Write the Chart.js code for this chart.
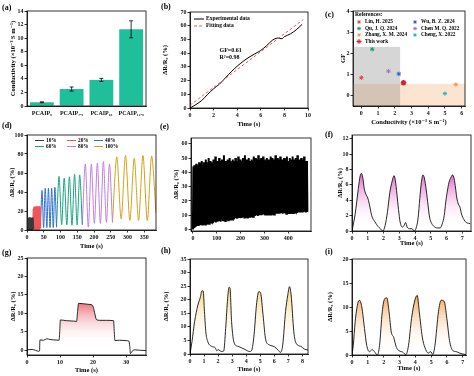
<!DOCTYPE html>
<html>
<head>
<meta charset="utf-8">
<script src="https://cdn.jsdelivr.net/npm/chart.js@4.4.1/dist/chart.umd.min.js"></script>
<style>
html, body { margin: 0; padding: 0; background: #fff; }
#wrap { position: relative; width: 474px; height: 376px; overflow: hidden; }
#wrap canvas { position: absolute; }
.lbl { position: absolute; font: bold 8px 'Liberation Serif', serif; color: #000; line-height: 1; }
</style>
</head>
<body>
<div id="wrap"></div>
<script>
// (a) conductivity of the samples
const samplesA = ['PCAIP₀', 'PCAIP₇.₅', 'PCAIP₁₀', 'PCAIP₁₂.₅'];
const condA = [0.55, 2.5, 3.85, 11.3];
const condErrA = [0.07, 0.3, 0.22, 1.25];

// (b) response vs time + linear fit
const timeB = [0, 0.5, 1, 1.5, 2, 2.5, 3, 3.5, 4, 4.5, 5, 5.5, 6, 6.5, 7, 7.4, 7.8, 8, 8.5, 9, 9.5];
const expB = [0, 2.5, 5.5, 10, 14, 17.5, 22, 26.5, 30.5, 34, 37, 39.5, 42, 45.5, 49.5, 51, 50.5, 52, 54, 57, 61];
const fitTimeB = [0, 9.6];
const fitB = [2, 64.5];

// (c) comparison with literature
const refNames = ['Lin, H. 2025', 'Qu, J. Q. 2024', 'Zhang, X. M. 2024', 'This work', 'Wu, B. Z. 2024', 'Chen M. Q. 2022', 'Cheng, X. 2022'];
const refCond = [0, 0.65, 5.65, 2.52, 2.24, 1.62, 5.0];
const refGF = [0.84, 2.19, 0.52, 0.6, 1.02, 1.15, 0.09];

// (d) cyclic strain levels: peaks and valleys per level
const levelsD = ['10%', '20%', '40%', '60%', '80%', '100%'];
const startD = [0, 18, 40, 88, 165, 255];
const endD = [19, 40, 88, 165, 255, 385];
const peaks10 = [12, 12.5, 12.2, 12.8, 12.5, 12.3, 12.6, 12.4];
const valleys10 = [0, 0.6, 0.5, 0.7, 0.5, 0.6, 0.5, 0.6, 1];
const peaks20 = [22.5, 23.8, 24.2, 24, 24.5, 24.2, 24.6, 24, 24.3, 23.8];
const valleys20 = [1, 1.2, 1, 1.3, 1.1, 1.2, 1, 1.3, 1.1, 1.2, 2];
const peaks40 = [41.7, 44, 44, 44, 45];
const valleys40 = [2, 2.5, 2.5, 2.5, 2.5, 3];
const peaks60 = [56.5, 54.7, 56, 58.6, 58];
const valleys60 = [3, 5.6, 5.3, 5, 5.3, 5.6];
const peaks80 = [69.5, 69.5, 70.5, 72, 69.5];
const valleys80 = [5.6, 3, 7, 7, 8, 8];
const peaks100 = [77, 78.5, 75.5, 78.5, 78];
const valleys100 = [8, 11.6, 10, 10, 10, 18];

// (e) long-term cycling, one peak and one valley per cycle
const spanE = [0, 480];
const ticksEx = [0, 100, 200, 300, 400];
const peaksE = [
  44, 45, 44, 46, 45, 44, 47, 45, 46, 48, 45, 47, 46, 49, 45, 47, 50, 46, 48, 47,
  46, 49, 47, 51, 46, 48, 47, 50, 46, 48, 49, 47, 52, 46, 48, 47, 49, 46, 50, 48,
  47, 49, 48, 46, 50, 47, 48, 51, 47, 49, 46, 48, 50, 47, 52, 48, 49, 47, 50, 48,
  46, 49, 48, 51, 47, 50, 49, 48, 52, 47, 49, 50, 48, 51, 47, 49, 48, 50, 47, 49,
  48, 51, 47, 50, 49, 48, 52, 47, 50, 48, 49, 51, 47, 49, 48, 50, 46, 49, 51, 48,
  47, 50, 49, 48, 51, 47, 49, 50, 48, 52, 47, 49, 48, 50, 47, 49, 51, 48, 47, 48
];
const valleysE = [
  0, 1, 1.5, 2, 2.5, 3, 2.5, 3.5, 3, 4, 3.5, 4, 4.5, 3.5, 4, 5, 4.5, 4, 5, 5.5,
  5, 4.5, 5.5, 6, 5, 6, 5.5, 6.5, 6, 5.5, 7, 6, 6.5, 7, 6, 7, 7.5, 6.5, 7, 7.5,
  7, 8, 7.5, 7, 8, 8.5, 7.5, 8, 8.5, 8, 9, 8, 8.5, 9, 8.5, 9, 9.5, 8.5, 9, 9.5,
  9, 10, 9.5, 9, 10, 9.5, 10.5, 10, 9.5, 10.5, 10, 11, 10, 10.5, 11, 10, 10.5, 11, 10.5, 11,
  10.5, 11, 10.5, 11.5, 11, 10.5, 11.5, 11, 12, 11, 11.5, 11, 12, 11.5, 11, 12, 11.5, 12, 11, 12,
  11.5, 12, 11.5, 12.5, 12, 11.5, 12, 12.5, 12, 11.5, 12.5, 12, 13, 12, 12.5, 12, 13, 12.5, 12, 13, 12.5
];

// (f) signal
const timeF = [0, 0.2, 0.4, 0.52, 0.6, 0.68, 0.78, 0.88, 1.0, 1.1, 1.25, 1.45, 1.65, 1.8, 1.95, 2.1, 2.25, 2.4, 2.55, 2.67, 2.75, 2.85, 2.95, 3.05, 3.2, 3.3, 3.4, 3.5, 3.65, 3.8, 3.95, 4.1, 4.2, 4.3, 4.4, 4.5, 4.58, 4.68, 4.8, 4.92, 5.05, 5.2, 5.4, 5.6, 5.72, 5.85, 5.95, 6.05, 6.15, 6.28, 6.38, 6.48, 6.57, 6.65, 6.75, 6.85, 6.95, 7.1, 7.25, 7.4, 7.5];
const valF = [0, 2.2, 5.5, 7.2, 7.5, 7.0, 5.5, 4.8, 4.3, 3.5, 2.0, 1.2, 0.6, 0.3, 0, 0.7, 2.5, 5.0, 6.5, 7.2, 6.6, 4.8, 2.8, 1.2, 0.5, 0.7, 1.1, 0.5, 0.3, 0.3, 0, 0.6, 1.8, 4.2, 6.3, 7.3, 7.0, 5.8, 3.8, 1.8, 1.0, 0.6, 0.4, 0.4, 0.9, 2.0, 3.8, 5.2, 6.3, 7.0, 7.3, 6.8, 5.6, 4.3, 3.5, 3.1, 2.2, 1.5, 1.1, 1.0, 0.95];

// (g) step signal
const timeG = [0, 1.5, 2.5, 3.5, 3.8, 3.9, 5, 6, 7, 8, 9.7, 9.9, 10.1, 12, 14, 15.0, 15.3, 15.6, 17, 19, 19.8, 20.5, 21, 22, 24, 26.2, 26.4, 26.6, 28, 30, 30.8, 31.1, 31.3, 31.8, 32.5, 34, 36];
const valG = [0.1, 0.2, 0, -0.3, -0.2, 2.8, 2.7, 3.1, 2.9, 2.8, 2.7, 5, 8.2, 8.0, 7.9, 7.8, 10.5, 12.7, 12.6, 12.4, 12.2, 10, 8.3, 8.1, 8.1, 8.0, 5, 2.6, 2.7, 2.6, 2.5, 1, -0.9, -0.3, 0.1, 0, -0.1];

// (h) signal
const timeH = [0, 0.14, 0.33, 0.56, 0.73, 0.85, 0.94, 1.03, 1.13, 1.27, 1.55, 1.8, 1.9, 2.0, 2.26, 2.4, 2.54, 2.68, 2.78, 2.85, 2.96, 3.15, 3.44, 3.9, 4.26, 4.4, 4.56, 4.73, 4.9, 5.03, 5.2, 5.39, 5.67, 6.0, 6.26, 6.45, 6.6, 6.8, 6.96, 7.08, 7.2, 7.39, 7.55, 7.9, 8.14, 8.4];
const valH = [0, 4.5, 12, 18, 20.8, 23.3, 23.2, 15.6, 8, 4.5, 2.8, 2.3, 1.2, 1.6, 0.9, 1.1, 9.5, 20.5, 24.6, 24.2, 12, 4, 2.8, 1.7, 0.9, 1.5, 7, 18, 23, 22.4, 14.4, 5.2, 3.3, 2.7, 1.5, 0.6, 3.3, 15.6, 21.7, 24.8, 21.7, 8.2, 4, 2.8, 1.8, 1.5];

// (i) signal
const timeI = [0, 0.08, 0.2, 0.36, 0.47, 0.62, 0.79, 0.93, 1.1, 1.27, 1.42, 1.6, 1.74, 1.91, 2.06, 2.2, 2.34, 2.48, 2.63, 2.8, 2.97, 3.2, 3.4, 3.57, 3.76, 3.97, 4.12, 4.25, 4.44, 4.6, 4.82, 4.97, 5.1, 5.24, 5.46, 5.63, 5.82, 5.99, 6.16, 6.37, 6.58, 6.8, 7.0, 7.18];
const valI = [0, 2, 6.9, 10.7, 11.4, 10, 5.5, 2, 0.7, 1.1, 0.7, 0, 2, 9, 11.7, 11.9, 9, 4.8, 3.7, 1.6, 0.9, 0.6, 0.1, 2, 7.6, 11.4, 12.4, 9, 3.7, 1.6, 0.4, 0.7, 0.1, 2, 9, 11.4, 11.2, 7.6, 3, 0.9, 0.7, 0.4, 0.2, 0.1];

const FONT = "'Liberation Serif', 'DejaVu Serif', serif";
const YT = 'ΔR/R₀ (%)';
const wrap = document.getElementById('wrap');
Chart.defaults.font.family = FONT;
Chart.defaults.color = '#000';

function pairs(xs, ys) { return xs.map((x, i) => ({ x: x, y: ys[i] })); }

// peaks/valleys alternate, evenly placed between start and end
function zigzag(start, end, peaks, valleys) {
  const n = peaks.length * 2, step = (end - start) / n, pts = [];
  for (let i = 0; i <= n; i++) {
    pts.push({ x: start + i * step, y: i % 2 ? peaks[(i - 1) / 2] : valleys[i / 2] });
  }
  return pts;
}

function axis(opt) {
  const a = {
    type: opt.type || 'linear',
    min: opt.min, max: opt.max,
    border: { display: true, color: '#000', width: 0.8 },
    grid: { display: opt.noTicks ? false : true, drawOnChartArea: false, tickLength: 2.5, color: '#000', lineWidth: 0.8 },
    ticks: { stepSize: opt.step, font: { family: FONT, size: 6, weight: 'bold' }, color: '#111', padding: 1, includeBounds: false, maxRotation: 0, autoSkip: false },
    title: { display: !!opt.title, text: opt.title, font: { family: FONT, size: 6.5, weight: 'bold' }, color: '#000', padding: 0 },
    afterFit: s => {
      if (opt.isX) s.height = opt.fixed; else s.width = opt.fixed;
      s.paddingLeft = 0; s.paddingRight = 0; s.paddingTop = 0; s.paddingBottom = 0;
    }
  };
  if (opt.tickList) a.afterBuildTicks = s => { s.ticks = opt.tickList.map(v => ({ value: v })); };
  return a;
}

const frame = {
  id: 'frame',
  afterDraw(chart) {
    const a = chart.chartArea, c = chart.ctx;
    c.save();
    c.strokeStyle = '#000';
    c.lineWidth = 0.8;
    c.strokeRect(a.left, a.top, a.right - a.left, a.bottom - a.top);
    c.restore();
  }
};

function panel(plot, yw, xh, type, data, scales, plugins) {
  const pl = 2, pt = 6, pr = 6, pb = 2;
  const cv = document.createElement('canvas');
  cv.width = plot.r - plot.l + yw + pl + pr;
  cv.height = plot.b - plot.t + xh + pt + pb;
  cv.style.left = (plot.l - yw - pl) + 'px';
  cv.style.top = (plot.t - pt) + 'px';
  wrap.appendChild(cv);
  return new Chart(cv, {
    type: type,
    data: data,
    options: {
      responsive: false,
      animation: false,
      devicePixelRatio: 1,
      layout: { padding: { left: pl, top: pt, right: pr, bottom: pb } },
      plugins: { legend: { display: false }, tooltip: { enabled: false } },
      elements: { point: { radius: 0 } },
      scales: scales
    },
    plugins: [frame].concat(plugins || [])
  });
}

function label(t, x, y) {
  const d = document.createElement('div');
  d.className = 'lbl';
  d.textContent = t;
  d.style.left = x + 'px';
  d.style.top = y + 'px';
  wrap.appendChild(d);
}

function fade(color, top, bottom) {
  return ctx => {
    const ch = ctx.chart;
    if (!ch.chartArea) return 'rgba(0,0,0,0)';
    const y = ch.scales.y;
    const g = ch.ctx.createLinearGradient(0, y.getPixelForValue(top), 0, y.getPixelForValue(bottom));
    g.addColorStop(0, color);
    g.addColorStop(1, 'rgba(255,255,255,0)');
    return g;
  };
}

function txt(c, s, x, y, size) {
  c.font = 'bold ' + size + 'px ' + FONT;
  c.fillStyle = '#000';
  c.textBaseline = 'middle';
  c.fillText(s, x, y);
}

// ---------- (a)
const errBars = {
  id: 'errBars',
  afterDatasetsDraw(chart) {
    const c = chart.ctx, y = chart.scales.y, meta = chart.getDatasetMeta(0);
    c.save();
    c.strokeStyle = '#000';
    c.lineWidth = 0.8;
    meta.data.forEach((bar, i) => {
      const top = y.getPixelForValue(condA[i] + condErrA[i]);
      const bot = y.getPixelForValue(condA[i] - condErrA[i]);
      c.beginPath();
      c.moveTo(bar.x, top); c.lineTo(bar.x, bot);
      c.moveTo(bar.x - 2, top); c.lineTo(bar.x + 2, top);
      c.moveTo(bar.x - 2, bot); c.lineTo(bar.x + 2, bot);
      c.stroke();
    });
    c.restore();
  }
};
panel({ l: 27, t: 11, r: 146, b: 106 }, 18, 11, 'bar',
  { labels: samplesA, datasets: [{ data: condA, backgroundColor: '#1fbf9c', categoryPercentage: 0.8, barPercentage: 1 }] },
  {
    x: axis({ type: 'category', isX: true, fixed: 11, noTicks: true }),
    y: axis({ min: 0, max: 14, step: 2, title: 'Conductivity (×10⁻³ S m⁻¹)', fixed: 18 })
  }, [errBars]);

// ---------- (b)
const legendB = {
  id: 'legendB',
  afterDraw(chart) {
    const c = chart.ctx, a = chart.chartArea, xs = chart.scales.x, ys = chart.scales.y;
    c.save();
    c.lineWidth = 1;
    c.strokeStyle = '#000';
    c.beginPath(); c.moveTo(a.left + 4, a.top + 7); c.lineTo(a.left + 14, a.top + 7); c.stroke();
    c.strokeStyle = '#e0605a';
    c.setLineDash([3, 2]);
    c.beginPath(); c.moveTo(a.left + 4, a.top + 14); c.lineTo(a.left + 14, a.top + 14); c.stroke();
    c.setLineDash([]);
    txt(c, 'Experimental data', a.left + 16, a.top + 7, 5.5);
    txt(c, 'Fitting data', a.left + 16, a.top + 14, 5.5);
    txt(c, 'GF=0.61', xs.getPixelForValue(2.5), ys.getPixelForValue(42), 6);
    txt(c, 'R²=0.98', xs.getPixelForValue(2.5), ys.getPixelForValue(36.5), 6);
    c.restore();
  }
};
panel({ l: 190, t: 12, r: 308, b: 108 }, 29, 20, 'scatter',
  {
    datasets: [
      { data: pairs(fitTimeB, fitB), showLine: true, borderColor: '#e0605a', borderWidth: 1, borderDash: [3, 2], pointRadius: 0 },
      { data: pairs(timeB, expB), showLine: true, borderColor: '#000', borderWidth: 1, tension: 0.3, pointRadius: 0 }
    ]
  },
  {
    x: axis({ min: 0, max: 10, step: 2, title: 'Time (s)', isX: true, fixed: 20 }),
    y: axis({ min: 0, max: 70, step: 10, title: YT, fixed: 29 })
  }, [legendB]);

// ---------- (c)
const refColors = ['#e8434b', '#1f9a6a', '#f29a55', '#d81f2e', '#2f63b8', '#9b7bb0', '#2fb3c4'];
const legendSlots = [[6, 11], [6, 17.5], [6, 24], [6, 30.5], [62, 11], [62, 17.5], [62, 24]];
const zones = {
  id: 'zones',
  beforeDatasetsDraw(chart) {
    const c = chart.ctx, xs = chart.scales.x, ys = chart.scales.y;
    c.save();
    c.fillStyle = 'rgba(245,170,100,0.3)';
    c.fillRect(xs.getPixelForValue(-0.5), ys.getPixelForValue(0.55), xs.getPixelForValue(6.2) - xs.getPixelForValue(-0.5), ys.getPixelForValue(-0.5) - ys.getPixelForValue(0.55));
    c.fillStyle = 'rgba(128,128,128,0.32)';
    c.fillRect(xs.getPixelForValue(-0.5), ys.getPixelForValue(2.3), xs.getPixelForValue(2.32) - xs.getPixelForValue(-0.5), ys.getPixelForValue(-0.5) - ys.getPixelForValue(2.3));
    c.restore();
  }
};
const legendC = {
  id: 'legendC',
  afterDraw(chart) {
    const c = chart.ctx, a = chart.chartArea;
    c.save();
    txt(c, 'References:', a.left + 2, a.top + 4, 5.5);
    refNames.forEach((n, i) => {
      const s = legendSlots[i];
      c.strokeStyle = refColors[i];
      c.fillStyle = refColors[i];
      Chart.helpers.drawPoint(c, { pointStyle: 'star', radius: i === 3 ? 2.5 : 1.8, borderWidth: i === 3 ? 1.6 : 1 }, a.left + s[0], a.top + s[1]);
      txt(c, n, a.left + s[0] + 6, a.top + s[1], 5.3);
    });
    c.restore();
  }
};
panel({ l: 353, t: 11, r: 465, b: 106 }, 14, 20, 'scatter',
  {
    datasets: refNames.map((n, i) => ({
      label: n,
      data: [{ x: refCond[i], y: refGF[i] }],
      pointStyle: 'star',
      pointRadius: i === 3 ? 2.8 : 2.2,
      borderWidth: i === 3 ? 1.6 : 1,
      borderColor: refColors[i],
      backgroundColor: refColors[i]
    }))
  },
  {
    x: axis({ min: -0.5, max: 6.2, step: 1, title: 'Conductivity (×10⁻³ S m⁻¹)', isX: true, fixed: 20 }),
    y: axis({ min: -0.5, max: 4, step: 1, title: 'GF', fixed: 14 })
  }, [zones, legendC]);

// ---------- (d)
const colorsD = ['#3a3a3a', '#f0555a', '#2f6fd0', '#17a37a', '#c07ee0', '#d4a017'];
const peaksD = [peaks10, peaks20, peaks40, peaks60, peaks80, peaks100];
const valleysD = [valleys10, valleys20, valleys40, valleys60, valleys80, valleys100];
const legendD = {
  id: 'legendD',
  afterDraw(chart) {
    const c = chart.ctx, a = chart.chartArea;
    const slots = [[8, 5.5], [40, 5.5], [67, 5.5], [8, 11.5], [40, 11.5], [67, 11.5]];
    c.save();
    levelsD.forEach((lv, i) => {
      const s = slots[i];
      c.strokeStyle = colorsD[i];
      c.lineWidth = 1;
      c.beginPath(); c.moveTo(a.left + s[0], a.top + s[1]); c.lineTo(a.left + s[0] + 9, a.top + s[1]); c.stroke();
      txt(c, lv, a.left + s[0] + 11, a.top + s[1], 5.3);
    });
    c.restore();
  }
};
panel({ l: 27, t: 135, r: 156, b: 230 }, 19, 20, 'scatter',
  {
    datasets: levelsD.map((lv, i) => ({
      data: zigzag(startD[i], endD[i], peaksD[i], valleysD[i]),
      showLine: true, borderColor: colorsD[i], borderWidth: i < 2 ? 1.6 : 1, tension: i < 2 ? 0.2 : 0.3, pointRadius: 0
    }))
  },
  {
    x: axis({ min: 0, max: 385, step: 50, title: 'Time (s)', isX: true, fixed: 20 }),
    y: axis({ min: 0, max: 100, step: 20, title: YT, fixed: 19 })
  }, [legendD]);

// ---------- (e)
panel({ l: 191, t: 138, r: 311, b: 231 }, 19, 10, 'scatter',
  {
    datasets: [{ data: zigzag(spanE[0], spanE[1], peaksE, valleysE), showLine: true, borderColor: '#000', borderWidth: 2, pointRadius: 0 }]
  },
  {
    x: axis({ min: -8, max: 495, tickList: ticksEx, isX: true, fixed: 10 }),
    y: axis({ min: -1, max: 64, step: 10, title: YT, fixed: 19 })
  });

// ---------- (f) (g) (h) (i)
function wave(plot, yw, xh, xs, ys, fillCol, top, bottom, xr, yr) {
  panel(plot, yw, xh, 'scatter',
    {
      datasets: [{
        data: pairs(xs, ys), showLine: true, borderColor: '#111', borderWidth: 0.9,
        cubicInterpolationMode: 'monotone', pointRadius: 0,
        fill: 'origin', backgroundColor: fade(fillCol, top, bottom)
      }]
    },
    {
      x: axis({ min: xr[0], max: xr[1], step: xr[2], title: 'Time (s)', isX: true, fixed: xh }),
      y: axis({ min: yr[0], max: yr[1], step: yr[2], title: YT, fixed: yw })
    });
}
wave({ l: 352, t: 135, r: 471, b: 231 }, 16, 16, timeF, valF, 'rgba(226,92,200,0.95)', 7.5, 0.5, [0, 7.55, 1], [0, 12.5, 2]);
wave({ l: 27, t: 258, r: 146, b: 355 }, 18, 19, timeG, valG, 'rgba(236,105,115,0.95)', 13, 1.5, [0, 36, 10], [-1.3, 25, 5]);
wave({ l: 190, t: 259, r: 308, b: 354 }, 28, 19, timeH, valH, 'rgba(248,212,120,0.95)', 24, 3, [0, 8.4, 1], [0, 35, 5]);
wave({ l: 352, t: 259, r: 466, b: 355 }, 26, 17, timeI, valI, 'rgba(244,168,90,0.95)', 12, 1, [0, 7.2, 1], [0, 20, 5]);

// panel letters
label('(a)', 2, 4);
label('(b)', 161, 3);
label('(c)', 325, 11);
label('(d)', 2, 122);
label('(e)', 160, 123);
label('(f)', 325, 131);
label('(g)', 2, 249);
label('(h)', 161, 247);
label('(i)', 325, 248);
</script>
</body>
</html>
